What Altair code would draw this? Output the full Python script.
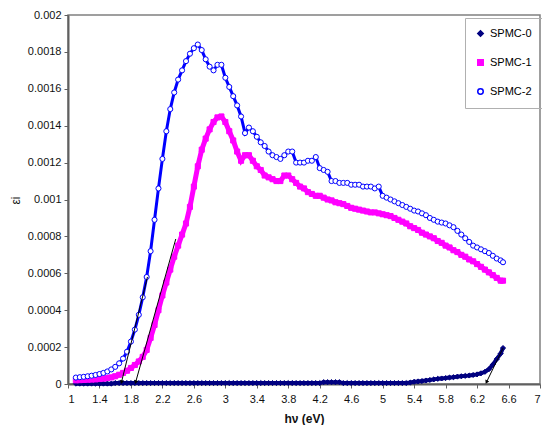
import altair as alt
import pandas as pd

# photon energy grid (eV), shared by the three samples
hv = [
    1.10, 1.15, 1.20, 1.25, 1.30, 1.35, 1.40, 1.45, 1.50, 1.55,
    1.60, 1.65, 1.70, 1.75, 1.80, 1.85, 1.90, 1.95, 2.00, 2.05,
    2.10, 2.15, 2.20, 2.25, 2.30, 2.35, 2.40, 2.45, 2.50, 2.55,
    2.60, 2.65, 2.70, 2.75, 2.80, 2.85, 2.90, 2.95, 3.00, 3.05,
    3.10, 3.15, 3.20, 3.25, 3.30, 3.35, 3.40, 3.45, 3.50, 3.55,
    3.60, 3.65, 3.70, 3.75, 3.80, 3.85, 3.90, 3.95, 4.00, 4.05,
    4.10, 4.15, 4.20, 4.25, 4.30, 4.35, 4.40, 4.45, 4.50, 4.55,
    4.60, 4.65, 4.70, 4.75, 4.80, 4.85, 4.90, 4.95, 5.00, 5.05,
    5.10, 5.15, 5.20, 5.25, 5.30, 5.35, 5.40, 5.45, 5.50, 5.55,
    5.60, 5.65, 5.70, 5.75, 5.80, 5.85, 5.90, 5.95, 6.00, 6.05,
    6.10, 6.15, 6.20, 6.25, 6.30, 6.35, 6.40, 6.45, 6.50, 6.53,
]

# epsilon_i values in units of 1e-4
spmc0_e4 = [
    0.02, 0.02, 0.02, 0.02, 0.02, 0.02, 0.02, 0.02, 0.02, 0.02,
    0.05, 0.05, 0.05, 0.05, 0.05, 0.05, 0.05, 0.05, 0.05, 0.05,
    0.05, 0.05, 0.05, 0.05, 0.05, 0.05, 0.05, 0.05, 0.05, 0.05,
    0.05, 0.05, 0.05, 0.05, 0.05, 0.05, 0.05, 0.05, 0.05, 0.05,
    0.05, 0.05, 0.05, 0.05, 0.05, 0.05, 0.05, 0.05, 0.05, 0.05,
    0.05, 0.05, 0.05, 0.05, 0.05, 0.05, 0.05, 0.05, 0.05, 0.05,
    0.05, 0.05, 0.05, 0.10, 0.10, 0.10, 0.10, 0.10, 0.05, 0.05,
    0.05, 0.05, 0.05, 0.05, 0.05, 0.05, 0.05, 0.05, 0.05, 0.05,
    0.05, 0.05, 0.05, 0.05, 0.05, 0.08, 0.12, 0.14, 0.16, 0.19,
    0.22, 0.25, 0.28, 0.30, 0.32, 0.35, 0.37, 0.40, 0.42, 0.44,
    0.46, 0.49, 0.52, 0.58, 0.66, 0.80, 1.05, 1.35, 1.65, 1.95,
]
spmc1_e4 = [
    0.20, 0.21, 0.22, 0.23, 0.24, 0.25, 0.27, 0.29, 0.32, 0.36,
    0.42, 0.50, 0.60, 0.72, 0.87, 1.03, 1.22, 1.47, 1.85, 2.50,
    3.20, 4.00, 4.80, 5.50, 6.20, 6.90, 7.50, 8.10, 8.70, 9.60,
    10.7, 11.8, 12.7, 13.3, 13.8, 14.2, 14.45, 14.5, 14.2, 13.7,
    13.2, 12.6, 12.1, 12.4, 12.4, 12.1, 11.8, 11.6, 11.3, 11.2,
    11.1, 11.0, 11.0, 11.3, 11.3, 11.1, 10.9, 10.7, 10.6, 10.4,
    10.3, 10.2, 10.2, 10.1, 10.0, 9.95, 9.85, 9.8, 9.75, 9.65,
    9.55, 9.5, 9.45, 9.4, 9.35, 9.3, 9.3, 9.25, 9.2, 9.15,
    9.1, 9.0, 8.9, 8.8, 8.7, 8.55, 8.45, 8.35, 8.2, 8.1,
    8.0, 7.9, 7.75, 7.65, 7.5, 7.4, 7.25, 7.15, 7.0, 6.9,
    6.75, 6.65, 6.5, 6.35, 6.2, 6.05, 5.9, 5.75, 5.6, 5.6,
]
spmc2_e4 = [
    0.35, 0.37, 0.39, 0.42, 0.45, 0.49, 0.54, 0.60, 0.68, 0.79,
    0.93, 1.12, 1.38, 1.75, 2.30, 2.95, 3.75, 4.70, 5.80, 7.20,
    8.90, 10.6, 12.2, 13.7, 14.9, 15.8, 16.5, 17.0, 17.5, 17.9,
    18.2, 18.4, 18.1, 17.6, 17.2, 17.0, 17.3, 17.3, 16.6, 16.1,
    15.6, 15.1, 14.5, 13.6, 13.9, 13.7, 13.4, 13.1, 12.9, 12.6,
    12.4, 12.3, 12.2, 12.4, 12.6, 12.6, 12.0, 12.0, 12.0, 12.1,
    12.1, 12.3, 11.7, 11.6, 11.5, 11.0, 11.0, 10.9, 10.9, 10.9,
    10.8, 10.8, 10.8, 10.7, 10.7, 10.7, 10.6, 10.7, 10.2, 10.1,
    10.0, 9.9, 9.8, 9.7, 9.6, 9.5, 9.4, 9.35, 9.25, 9.15,
    9.0, 8.9, 8.8, 8.75, 8.7, 8.6, 8.5, 8.3, 8.1, 7.9,
    7.7, 7.5, 7.4, 7.3, 7.2, 7.1, 6.95, 6.8, 6.7, 6.6,
]

series = ["SPMC-0", "SPMC-1", "SPMC-2"]
fills = ["#000080", "#ff00ff", "#ffffff"]
strokes = ["#000080", "#ff00ff", "#0000ff"]
shapes = ["diamond", "square", "circle"]
line_widths = [4, 5, 3]

# tangent lines used for the gap estimate (start -> arrow tip)
arrow_x0 = [2.01, 2.37, 6.53]
arrow_y0 = [0.00058, 0.000786, 0.000195]
arrow_x1 = [1.68, 1.86, 6.32]
arrow_y1 = [0.00001, 0.00001, 0.00001]
head_angle = [14, 15, 25]

x_ticks = [1, 1.4, 1.8, 2.2, 2.6, 3, 3.4, 3.8, 4.2, 4.6, 5, 5.4, 5.8, 6.2, 6.6, 7]
y_ticks = [0, 0.0002, 0.0004, 0.0006, 0.0008, 0.001, 0.0012, 0.0014, 0.0016, 0.0018, 0.002]

frames = []
for name, vals in zip(series, [spmc0_e4, spmc1_e4, spmc2_e4]):
    frames.append(pd.DataFrame({"series": name, "hv": hv, "eps": [v * 1e-4 for v in vals]}))
df = pd.concat(frames, ignore_index=True)

# same field names as the curves so the layers share one pair of axes
arrows = pd.DataFrame({
    "hv": arrow_x0, "eps": arrow_y0, "hv2": arrow_x1, "eps2": arrow_y1,
})
tips = pd.DataFrame({"hv": arrow_x1, "eps": arrow_y1, "angle": head_angle})

x_enc = alt.X("hv:Q", scale=alt.Scale(domain=[1, 7], nice=False),
              axis=alt.Axis(values=x_ticks, format="~g", title="hν (eV)", labelOverlap=False,
                            labelPadding=5, titleFontWeight="bold", titlePadding=9))
y_enc = alt.Y("eps:Q", scale=alt.Scale(domain=[0, 0.002], nice=False),
              axis=alt.Axis(values=y_ticks, format="~g", title="εi", labelOverlap=False,
                            titleX=-53, titleY=185, titleBaseline="middle",
                            titleFontWeight="normal"))

base = alt.Chart(df).encode(x=x_enc, y=y_enc)

# connecting line under each series so the dense marker trace has no gaps
lines = [
    base.transform_filter(alt.datum.series == name)
    .mark_line(color=col, strokeWidth=w)
    for name, col, w in zip(series, strokes, line_widths)
]

points = base.mark_point(filled=True, opacity=1, strokeWidth=1, size=26).encode(
    shape=alt.Shape("series:N", scale=alt.Scale(domain=series, range=shapes), title=None),
    fill=alt.Fill("series:N", scale=alt.Scale(domain=series, range=fills), title=None),
    stroke=alt.Stroke("series:N", scale=alt.Scale(domain=series, range=strokes), title=None,
                      legend=alt.Legend(orient="none", legendX=397, legendY=3,
                                        strokeColor="#b0b0b0", padding=10, rowPadding=16,
                                        labelFontSize=11, labelColor="#000", symbolSize=30,
                                        labelOffset=4)),
)

rules = alt.Chart(arrows).mark_rule(color="black", strokeWidth=1).encode(
    x=x_enc, y=y_enc, x2="hv2:Q", y2="eps2:Q",
)
heads = alt.Chart(tips).mark_point(shape="triangle-down", filled=True, color="black",
                                   opacity=1, size=18).encode(
    x=x_enc, y=y_enc, angle=alt.Angle("angle:Q", scale=None),
)

chart = (
    alt.layer(*lines, points, rules, heads)
    .properties(width=472, height=369,
                autosize=alt.AutoSizeParams(type="none"),
                padding={"left": 60, "top": 7, "right": 2, "bottom": 41})
    .configure(font="Liberation Sans")
    .configure_view(stroke="#808080", strokeWidth=1.5)
    .configure_axis(grid=False, domainColor="#606060", domainWidth=2, tickColor="#606060",
                    tickSize=4, labelFontSize=11, labelColor="#111", titleFontSize=12,
                    titleColor="#111", labelPadding=3, labelOverlap=False)
)

chart.save("out.html", embed_options={"renderer": "svg", "actions": False})
